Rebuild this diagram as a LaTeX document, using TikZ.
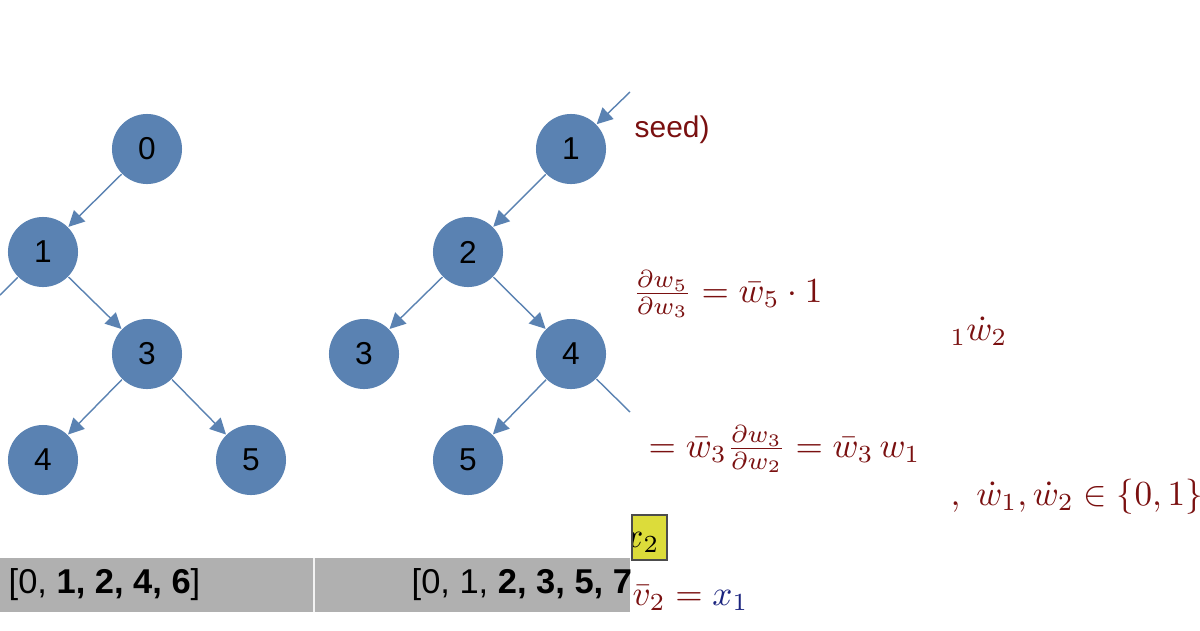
\documentclass[tikz,border=0pt]{standalone}
\usepackage{fontspec}
\setmainfont{Liberation Sans}
\usepackage{amsmath}
\usetikzlibrary{arrows.meta}
\definecolor{nodeblue}{HTML}{5A82B2}
\definecolor{darkred}{HTML}{7A1010}
\definecolor{mblue}{HTML}{1A237E}
\definecolor{bargray}{HTML}{B0B0B0}
\definecolor{yel}{HTML}{DCDC3A}
\tikzset{
 tn/.style={circle,fill=nodeblue,minimum size=0.7cm,inner sep=0pt,font=\fontsize{9}{10}\selectfont},
 ed/.style={draw=nodeblue,line width=0.4pt,-{Triangle[length=4.5pt,width=4.5pt]}},
 ln/.style={draw=nodeblue,line width=0.4pt},
 mt/.style={text=darkred,font=\fontsize{10.3}{12}\selectfont,inner sep=0pt},
 bar/.style={font=\fontsize{9.8}{12}\selectfont,inner sep=0pt}
}
\begin{document}
\begin{tikzpicture}[x=0.01cm,y=-0.01cm]
\useasboundingbox (0,0) rectangle (1200,630);
\fill[white] (0,0) rectangle (1200,630);
% left tree
\node[tn] (a0) at (147,149) {0};
\node[tn] (a1) at (43,252) {1};
\node[tn] (a3) at (147,354) {3};
\node[tn] (a4) at (43,460) {4};
\node[tn] (a5) at (251,460) {5};
\coordinate (aout) at (0,295);
\draw[ed] (a0) -- (a1);
\draw[ed] (a1) -- (a3);
\draw[ed] (a3) -- (a4);
\draw[ed] (a3) -- (a5);
\draw[ln] (a1) -- (aout);
% middle tree
\node[tn] (b1) at (571,149) {1};
\node[tn] (b2) at (468,252) {2};
\node[tn] (b3) at (364,354) {3};
\node[tn] (b4) at (571,354) {4};
\node[tn] (b5) at (468,460) {5};
\coordinate (bin) at (630,92);
\coordinate (bout) at (630,412);
\draw[ed] (bin) -- (b1);
\draw[ed] (b1) -- (b2);
\draw[ed] (b2) -- (b3);
\draw[ed] (b2) -- (b4);
\draw[ed] (b4) -- (b5);
\draw[ln] (b4) -- (bout);
% bars
\fill[bargray] (0,558) rectangle (630,612);
\draw[white!85!bargray,line width=0.3pt] (314,558) -- (314,612);
\node[bar,anchor=west] (l1) at (8,585) {[0, \textbf{1, 2, 4, 6}]};
\begin{scope}
\clip (314,558) rectangle (630,612);
\node[bar,anchor=west] (l2) at (411,585) {[0, 1, \textbf{2, 3, 5, 7}]};
\end{scope}
% math region
\node[mt,font=\fontsize{8.5}{10}\selectfont,anchor=base west] (s1) at (634,137) {seed)};
\node[mt,anchor=base west] (m1) at (632,302) {$\frac{\partial w_5}{\partial w_3} = \bar w_5\cdot 1$};
\node[mt,anchor=base west] (m2) at (648,457) {$= \bar w_3\frac{\partial w_3}{\partial w_2} = \bar w_3\, w_1$};
\draw[fill=yel,draw=black!70,line width=0.5pt] (632,515) rectangle (667,560);
\begin{scope}
\clip (633,516) rectangle (666,559);
\node[mt,text=black,anchor=base east] (x2) at (660,547) {$x_2$};
\end{scope}
\node[mt,anchor=base west] (m3) at (632,605) {$\bar v_2 = \textcolor{mblue}{x_1}$};
\node[mt,anchor=base west] (m4) at (950,340) {$_1\dot w_2$};
\node[mt,anchor=base west] (m5) at (950,505) {$,\ \dot w_1, \dot w_2 \in \{0,1\}$};
\end{tikzpicture}
\end{document}
